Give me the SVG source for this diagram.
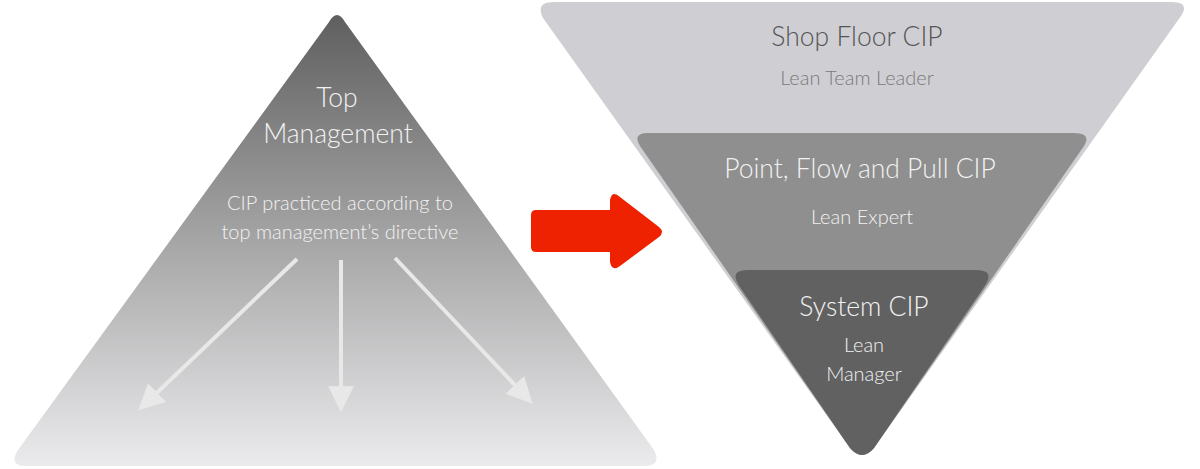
<svg xmlns="http://www.w3.org/2000/svg" width="1200" height="469" viewBox="0 0 1200 469">
<defs>
<linearGradient id="g" x1="0" y1="0" x2="0" y2="1"><stop offset="0" stop-color="#5f5f5f"/><stop offset="1" stop-color="#ebebed"/></linearGradient>
<marker id="ah" viewBox="0 0 10 10" refX="8" refY="5" markerWidth="6.5" markerHeight="7" orient="auto" markerUnits="strokeWidth"><path d="M0,0 L10,5 L0,10 z" fill="#e8e8e8"/></marker>
<style>
text{font-family:Lato,"Open Sans",sans-serif;font-weight:300;text-anchor:middle;fill:#f2f2f2}
.c{stroke:#e8e8e8;stroke-width:4;fill:none;marker-end:url(#ah)}
</style>
</defs>
<rect width="1200" height="469" fill="#fff"/>
<g id="top-management">
<path d="M329,22 Q337,8 345,22 L654,450 Q662,466 645,466 L27,466 Q8,466 18,450 Z" fill="url(#g)"/>
<text x="337" y="107" font-size="26.5">Top</text>
<text x="338" y="143" font-size="26.5">Management</text>
<text x="340" y="210" font-size="20">CIP practiced according to</text>
<text x="340" y="239" font-size="20">top management’s directive</text>
</g>
<g id="connectors">
<line class="c" x1="297" y1="259" x2="142" y2="407"/>
<line class="c" x1="341" y1="260" x2="341" y2="407"/>
<line class="c" x1="395" y1="258" x2="529" y2="400"/>
<path d="M536,210 L610,210 L610,200 Q612,190 620,197 L659,227 Q665,232 659,237 L620,266 Q612,272 610,262 L610,252 L536,252 Q531,252 531,247 L531,215 Q531,210 536,210 Z" fill="#ee2200"/>
</g>
<g id="shop-floor">
<path d="M554,2 L1172,2 Q1190,2 1181,16 L874,448 Q862,462 850,448 L543,18 Q535,2 554,2 Z" fill="#cfcfd3"/>
<text x="857" y="46" font-size="26.5" style="fill:#555">Shop Floor CIP</text>
<text x="857" y="85" font-size="20" style="fill:#7a7a7a">Lean Team Leader</text>
</g>
<g id="point-flow-pull">
<path d="M648,133 L1074,133 Q1092,133 1084,146 L874,448 Q862,462 850,448 L640,146 Q632,133 648,133 Z" fill="#8f8f8f"/>
<text x="860" y="178" font-size="26.5">Point, Flow and Pull CIP</text>
<text x="862" y="224" font-size="20">Lean Expert</text>
</g>
<g id="system">
<path d="M748,270 L976,270 Q994,270 986,284 L874,448 Q862,462 850,448 L738,284 Q730,270 748,270 Z" fill="#616161"/>
<text x="864" y="316" font-size="26.5">System CIP</text>
<text x="864" y="352" font-size="20">Lean</text>
<text x="864" y="381" font-size="20">Manager</text>
</g>
</svg>
